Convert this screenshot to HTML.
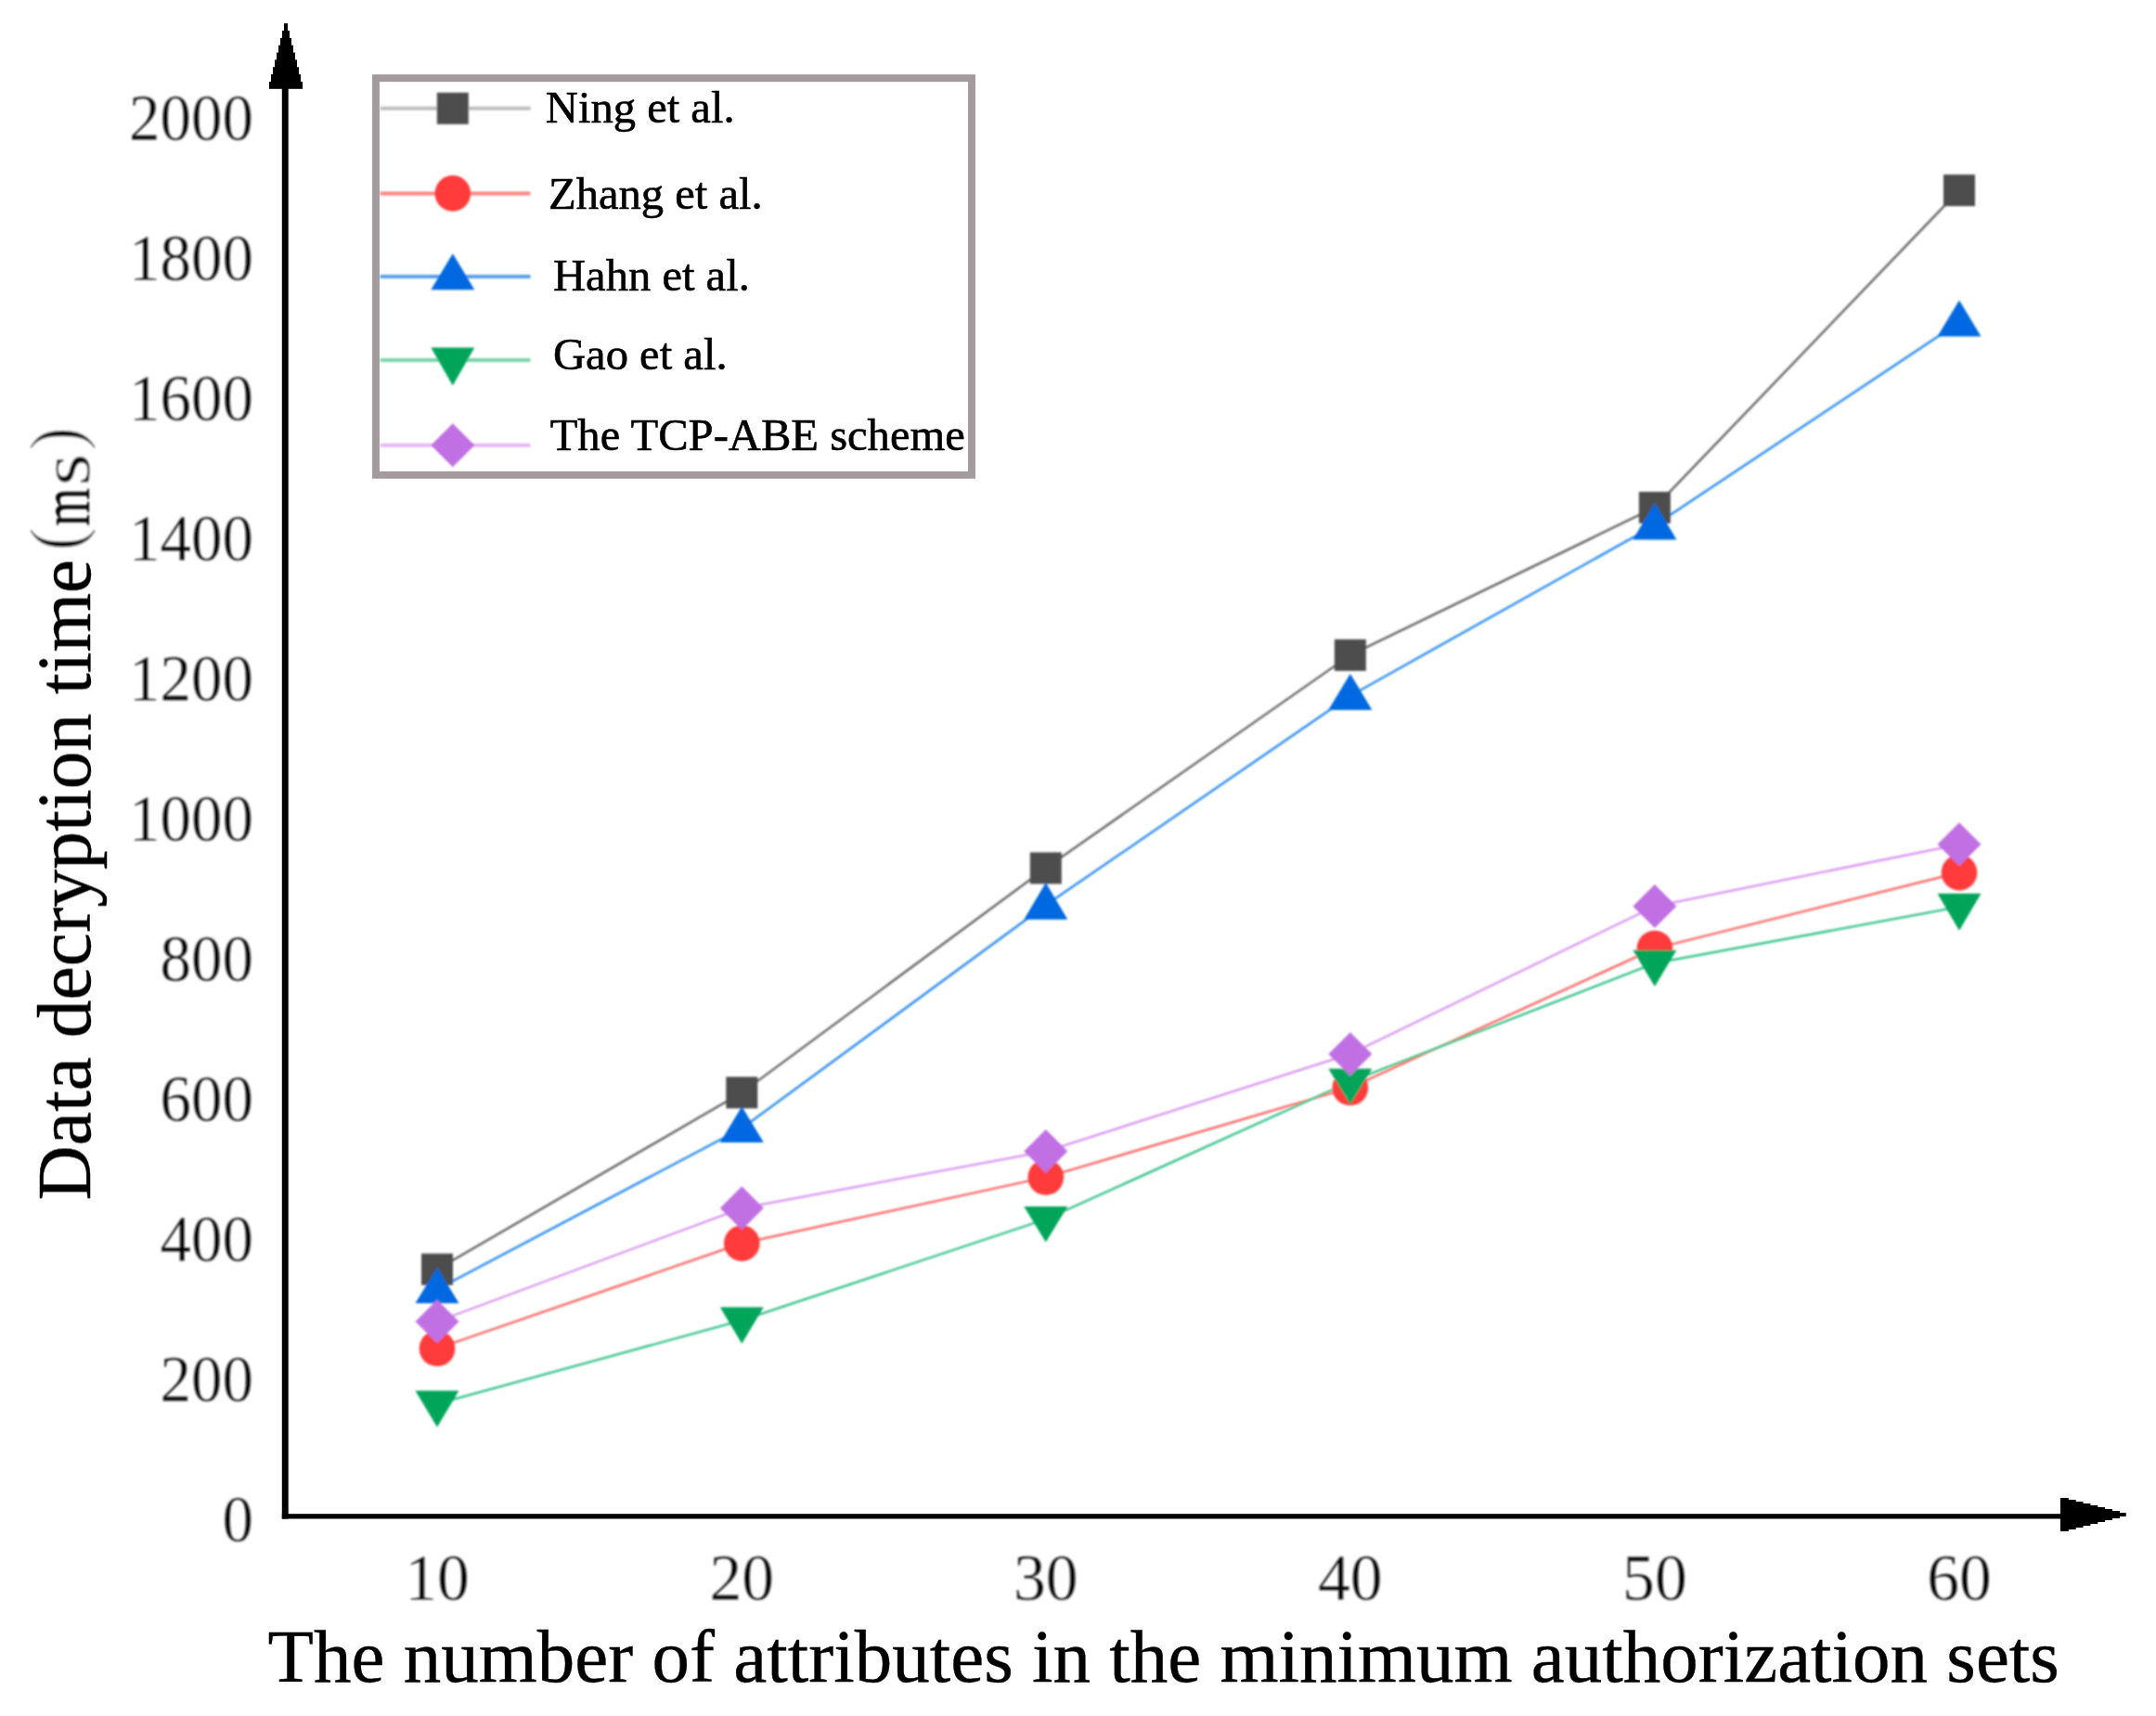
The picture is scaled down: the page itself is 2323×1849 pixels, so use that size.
<!DOCTYPE html>
<html lang="en"><head><meta charset="utf-8"><title>Data decryption time</title>
<style>
html,body{margin:0;padding:0;background:#fff;}
body{width:2323px;height:1849px;overflow:hidden;}
svg{display:block;}
text{font-family:"Liberation Serif","Noto Serif CJK SC",serif;fill:#000;}
.tick{font-size:67px;fill:#0a0a0a;stroke:#fff;stroke-width:0.3px;}
.leg{font-size:48.6px;stroke:#000;stroke-width:0.6px;}
.ax{font-size:80.6px;stroke:#000;stroke-width:0.4px;}
.ms{font-size:80px;}
</style></head><body>
<svg width="2323" height="1849" viewBox="0 0 2323 1849">
<defs><filter id="soft" x="0" y="0" width="2323" height="1849" filterUnits="userSpaceOnUse"><feGaussianBlur stdDeviation="1"/></filter></defs>
<rect width="2323" height="1849" fill="#fff"/>
<g filter="url(#soft)">
<g>
<polyline points="471,1367.7 799.3,1177.3 1126.8,935.4 1454.8,705.9 1782.9,546.9 2111,205.1" fill="none" stroke="#5e5e5e" stroke-width="2.3"/>
<polyline points="471,1453 799.3,1339.7 1126.8,1268.5 1454.8,1172 1782.9,1022 2111,940.2" fill="none" stroke="#ff5c5c" stroke-width="2.3"/>
<polyline points="471,1389.2 799.3,1215.8 1126.8,975.3 1454.8,749.8 1782.9,566 2111,347.3" fill="none" stroke="#2486f5" stroke-width="2.3"/>
<polyline points="471,1512.7 799.3,1422.6 1126.8,1313.8 1454.8,1165.5 1782.9,1037.9 2111,977.2" fill="none" stroke="#2fc088" stroke-width="2.3"/>
<polyline points="471,1424 799.3,1301.8 1126.8,1240.6 1454.8,1135.7 1782.9,976.5 2111,909.8" fill="none" stroke="#d692f2" stroke-width="2.3"/>
</g>
<g>
<rect x="454" y="1350.7" width="34" height="34" fill="#4d4d4d"/>
<rect x="782.3" y="1160.3" width="34" height="34" fill="#4d4d4d"/>
<rect x="1109.8" y="918.4" width="34" height="34" fill="#4d4d4d"/>
<rect x="1437.8" y="688.9" width="34" height="34" fill="#4d4d4d"/>
<rect x="1765.9" y="529.9" width="34" height="34" fill="#4d4d4d"/>
<rect x="2094" y="188.1" width="34" height="34" fill="#4d4d4d"/>
<circle cx="471" cy="1453" r="19.3" fill="#ff3a3a"/>
<circle cx="799.3" cy="1339.7" r="19.3" fill="#ff3a3a"/>
<circle cx="1126.8" cy="1268.5" r="19.3" fill="#ff3a3a"/>
<circle cx="1454.8" cy="1172" r="19.3" fill="#ff3a3a"/>
<circle cx="1782.9" cy="1022" r="19.3" fill="#ff3a3a"/>
<circle cx="2111" cy="940.2" r="19.3" fill="#ff3a3a"/>
<polygon points="471,1365.7 494.5,1404.3 447.5,1404.3" fill="#0068e0"/>
<polygon points="799.3,1192.3 822.8,1230.9 775.8,1230.9" fill="#0068e0"/>
<polygon points="1126.8,951 1150.3,990.8 1103.3,990.8" fill="#0068e0"/>
<polygon points="1454.8,725.9 1478.3,765 1431.3,765" fill="#0068e0"/>
<polygon points="1782.9,541.6 1806.4,581.6 1759.4,581.6" fill="#0068e0"/>
<polygon points="2111,323.4 2134.5,362.6 2087.5,362.6" fill="#0068e0"/>
<polygon points="447.5,1498.6 494.5,1498.6 471,1537.8" fill="#00a55a"/>
<polygon points="775.8,1408.5 822.8,1408.5 799.3,1447.7" fill="#00a55a"/>
<polygon points="1103.3,1299.9 1150.3,1299.9 1126.8,1338.5" fill="#00a55a"/>
<polygon points="1431.3,1151.6 1478.3,1151.6 1454.8,1190.2" fill="#00a55a"/>
<polygon points="1759.4,1023.8 1806.4,1023.8 1782.9,1062.9" fill="#00a55a"/>
<polygon points="2087.5,962.8 2134.5,962.8 2111,1002.8" fill="#00a55a"/>
<polygon points="471,1400.5 494.5,1424 471,1447.5 447.5,1424" fill="#c070e2"/>
<polygon points="799.3,1278.3 822.8,1301.8 799.3,1325.3 775.8,1301.8" fill="#c070e2"/>
<polygon points="1126.8,1217.1 1150.3,1240.6 1126.8,1264.1 1103.3,1240.6" fill="#c070e2"/>
<polygon points="1454.8,1112.2 1478.3,1135.7 1454.8,1159.2 1431.3,1135.7" fill="#c070e2"/>
<polygon points="1782.9,953 1806.4,976.5 1782.9,1000 1759.4,976.5" fill="#c070e2"/>
<polygon points="2111,886.3 2134.5,909.8 2111,933.3 2087.5,909.8" fill="#c070e2"/>
</g>
<g class="tick" text-anchor="end">
<text transform="translate(273,1660.6) scale(1,1.075)">0</text>
<text transform="translate(273,1509.6) scale(1,1.075)">200</text>
<text transform="translate(273,1358.6) scale(1,1.075)">400</text>
<text transform="translate(273,1207.6) scale(1,1.075)">600</text>
<text transform="translate(273,1056.6) scale(1,1.075)">800</text>
<text transform="translate(273,905.6) scale(1,1.075)">1000</text>
<text transform="translate(273,754.6) scale(1,1.075)">1200</text>
<text transform="translate(273,603.6) scale(1,1.075)">1400</text>
<text transform="translate(273,452.6) scale(1,1.075)">1600</text>
<text transform="translate(273,301.6) scale(1,1.075)">1800</text>
<text transform="translate(273,150.6) scale(1,1.075)">2000</text>
</g>
<g class="tick" text-anchor="middle">
<text transform="translate(471,1723.6) scale(1.04,1.075)">10</text>
<text transform="translate(799.3,1723.6) scale(1.04,1.075)">20</text>
<text transform="translate(1126.8,1723.6) scale(1.04,1.075)">30</text>
<text transform="translate(1454.8,1723.6) scale(1.04,1.075)">40</text>
<text transform="translate(1782.9,1723.6) scale(1.04,1.075)">50</text>
<text transform="translate(2111,1723.6) scale(1.04,1.075)">60</text>
</g>
<text class="ms" transform="translate(97,1293.4) rotate(-90)"><tspan x="700.1" y="-10.4" style="font-size:79.4px;stroke:#fff;stroke-width:1.5px" textLength="25.2" lengthAdjust="spacingAndGlyphs">(</tspan><tspan x="726.4" y="-1.5" style="font-size:76.4px" textLength="40.9" lengthAdjust="spacingAndGlyphs">m</tspan><tspan x="770.1" y="-1.5" style="font-size:76.4px;stroke:#fff;stroke-width:0.8px" textLength="34.6" lengthAdjust="spacingAndGlyphs">s</tspan><tspan x="808" y="-10.4" style="font-size:79.4px;stroke:#fff;stroke-width:1.5px" textLength="25.2" lengthAdjust="spacingAndGlyphs">)</tspan></text>
</g>
<g fill="#000" stroke="none">
<rect x="303.8" y="90" width="6.9" height="1546.5"/>
<rect x="303.8" y="1631.2" width="1920" height="5.3"/>
<rect x="306" y="25.2" width="4" height="8.8"/>
<rect x="304" y="33" width="8" height="8.8"/>
<rect x="302" y="40.9" width="12" height="8.8"/>
<rect x="300" y="48.7" width="16" height="8.8"/>
<rect x="298" y="56.6" width="20" height="8.8"/>
<rect x="296" y="64.4" width="24" height="8.8"/>
<rect x="294" y="72.3" width="28" height="8.8"/>
<rect x="292" y="80.1" width="32" height="8.8"/>
<rect x="290" y="88" width="36" height="7.8"/>
<rect x="2219.9" y="1614" width="8.9" height="36"/>
<rect x="2227.8" y="1616" width="8.9" height="32"/>
<rect x="2235.6" y="1618" width="8.9" height="28"/>
<rect x="2243.5" y="1620" width="8.9" height="24"/>
<rect x="2251.4" y="1622" width="8.9" height="20"/>
<rect x="2259.2" y="1624" width="8.9" height="16"/>
<rect x="2267.1" y="1626" width="8.9" height="12"/>
<rect x="2275" y="1628" width="8.9" height="8"/>
<rect x="2282.8" y="1630" width="7.9" height="4"/>
</g>
<text class="ax" x="288.6" y="1811.5" textLength="1930.3" lengthAdjust="spacingAndGlyphs">The number of attributes in the minimum authorization sets</text>
<text class="ax" style="font-size:81.8px" transform="translate(97,1293.4) rotate(-90)" textLength="690.6" lengthAdjust="spacingAndGlyphs">Data decryption time</text>
<rect x="405" y="84.2" width="642" height="427.6" fill="#fff" stroke="#a29a9c" stroke-width="7.9"/>
<g filter="url(#soft)">
<line x1="409.5" y1="116.8" x2="571.5" y2="116.8" stroke="#bdbdbd" stroke-width="4"/>
<line x1="409.5" y1="208.4" x2="571.5" y2="208.4" stroke="#ff8282" stroke-width="4"/>
<line x1="409.5" y1="298" x2="571.5" y2="298" stroke="#579ff0" stroke-width="4"/>
<line x1="409.5" y1="388" x2="571.5" y2="388" stroke="#78d4ac" stroke-width="4"/>
<line x1="409.5" y1="479.8" x2="571.5" y2="479.8" stroke="#e4b5f6" stroke-width="4"/>
<rect x="470.8" y="99.8" width="34" height="34" fill="#4d4d4d"/>
<circle cx="487.8" cy="208.4" r="19.3" fill="#ff3a3a"/>
<polygon points="487.8,273.2 511.3,312.2 464.3,312.2" fill="#0068e0"/>
<polygon points="464.3,374.5 511.3,374.5 487.8,415.5" fill="#00a55a"/>
<polygon points="487.8,456.3 511.3,479.8 487.8,503.3 464.3,479.8" fill="#c070e2"/>
</g>
<g class="leg">
<text x="587.8" y="132">Ning et al.</text>
<text x="591" y="225">Zhang et al.</text>
<text x="596" y="312.6">Hahn et al.</text>
<text x="596" y="397.7">Gao et al.</text>
<text x="592.7" y="485.3">The TCP-ABE scheme</text>
</g>
</svg></body></html>
